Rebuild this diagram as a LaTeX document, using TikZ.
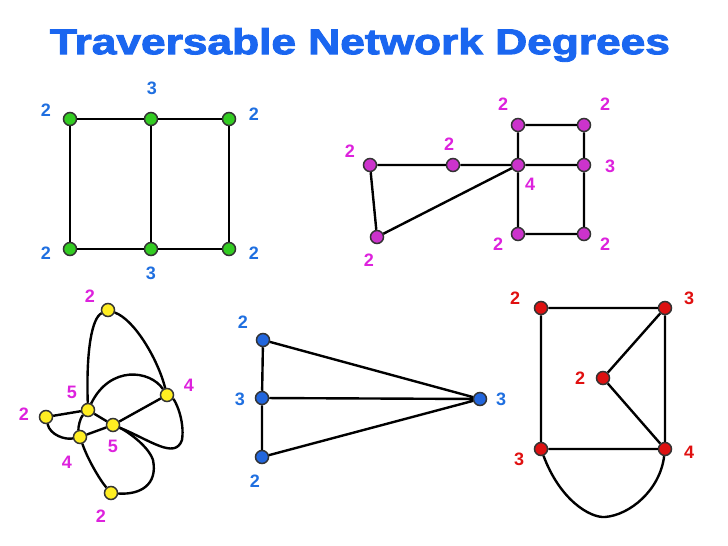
\documentclass[tikz,border=0pt]{standalone}
\usepackage{fontspec}
\setmainfont{Liberation Sans}
\newfontfamily\titlefont[FakeBold=2.5]{Liberation Sans Bold}
\begin{document}
\begin{tikzpicture}[x=1pt,y=-1pt,
  v/.style={circle,draw=black!80,line width=1.5pt,inner sep=0pt,minimum size=13pt},
  e/.style={line width=2.4pt,black},
  lb/.style={font=\bfseries\fontsize{18}{18}\selectfont},
  lbb/.style={lb,text=blueL},lbm/.style={lb,text=magL},lbr/.style={lb,text=redL}]
\definecolor{blueL}{HTML}{1F6FE0}
\definecolor{magL}{HTML}{DD22DD}
\definecolor{redL}{HTML}{E01010}
\definecolor{titleC}{HTML}{1A66F0}
\definecolor{gN}{HTML}{33CC22}
\definecolor{mN}{HTML}{CC33CC}
\definecolor{yN}{HTML}{FFEE22}
\definecolor{bN}{HTML}{2266DD}
\definecolor{rN}{HTML}{DD1111}
\useasboundingbox (0,0) rectangle (728,546);
\node (title) at (360,45) {\resizebox{620pt}{26pt}{\textcolor{titleC}{\titlefont Traversable Network Degrees}}};
% top-left
\foreach \n/\x/\y in {a/70/119,b/151/119,c/229/119,d/70/249,e/151/249,f/229/249}
  \node[v,fill=gN] (g\n) at (\x,\y) {};
\draw[e] (ga)--(gb)--(gc)--(gf)--(ge)--(gd)--(ga) (gb)--(ge);
\node[lbb] (l1) at (46,110) {2}; \node[lbb] (l2) at (152,88) {3};
\node[lbb] (l3) at (254,114) {2}; \node[lbb] (l4) at (46,253) {2};
\node[lbb] (l5) at (151,273) {3}; \node[lbb] (l6) at (254,253) {2};
% top-right
\foreach \n/\x/\y in {a/370/165,b/453/165,c/518/165,d/377/237,t/518/125,u/584/125,r/584/165,s/518/234,w/584/234}
  \node[v,fill=mN] (m\n) at (\x,\y) {};
\draw[e] (ma)--(mb)--(mc)--(md)--(ma) (mc)--(mt)--(mu)--(mr)--(mc)--(ms)--(mw)--(mr);
\node[lbm] at (350,151) {2}; \node[lbm] at (449,144) {2};
\node[lbm] at (369,260) {2}; \node[lbm] at (530,184) {4};
\node[lbm] at (503,104) {2}; \node[lbm] at (605,104) {2};
\node[lbm] at (610,166) {3}; \node[lbm] at (498,244) {2};
\node[lbm] at (605,244) {2};
% bottom-left
\foreach \n/\x/\y in {t/108/310,r/167/395,a/88/410,l/46/417,b/113/425,c/80/437,d/111/493}
  \node[v,fill=yN] (y\n) at (\x,\y) {};
\draw[e] (ya) .. controls (86,350) and (92,318) .. (yt);
\draw[e] (yt) .. controls (135,320) and (158,360) .. (yr);
\draw[e] (ya)--(yl) (ya)--(yb)--(yr) (yc)--(yb);
\draw[e] (yl) .. controls (50,435) and (65,440) .. (yc);
\draw[e] (ya) .. controls (110,365) and (150,370) .. (yr);
\draw[e] (yb) .. controls (150,440) and (175,460) .. (182,440) .. controls (185,420) and (175,400) .. (yr);
\draw[e] (ya) .. controls (80,418) and (78,428) .. (yc);
\draw[e] (yc) .. controls (88,460) and (100,480) .. (yd);
\draw[e] (yd) .. controls (140,495) and (158,485) .. (153,460) .. controls (148,445) and (125,430) .. (yb);
\node[lbm] at (90,296) {2}; \node[lbm] at (189,385) {4};
\node[lbm] at (72,392) {5}; \node[lbm] at (24,414) {2};
\node[lbm] at (113,446) {5}; \node[lbm] at (67,462) {4};
\node[lbm] at (101,516) {2};
% bottom-middle
\foreach \n/\x/\y in {a/263/340,b/262/398,c/262/457,d/480/399}
  \node[v,fill=bN] (b\n) at (\x,\y) {};
\draw[e] (ba)--(bb)--(bc)--(bd)--(ba) (bb)--(bd);
\node[lbb] at (243,322) {2}; \node[lbb] at (240,399) {3};
\node[lbb] at (255,481) {2}; \node[lbb] at (501,399) {3};
% bottom-right
\foreach \n/\x/\y in {a/541/308,b/665/308,m/603/378,c/541/449,d/665/449}
  \node[v,fill=rN] (r\n) at (\x,\y) {};
\draw[e] (ra)--(rb)--(rd)--(rc)--(ra) (rb)--(rm)--(rd);
\draw[e] (rc) .. controls (560,500) and (590,518) .. (605,517) .. controls (630,515) and (660,490) .. (rd);
\node[lbr] at (515,298) {2}; \node[lbr] at (689,298) {3};
\node[lbr] at (580,378) {2}; \node[lbr] at (519,459) {3};
\node[lbr] at (689,452) {4};
\end{tikzpicture}
\end{document}
